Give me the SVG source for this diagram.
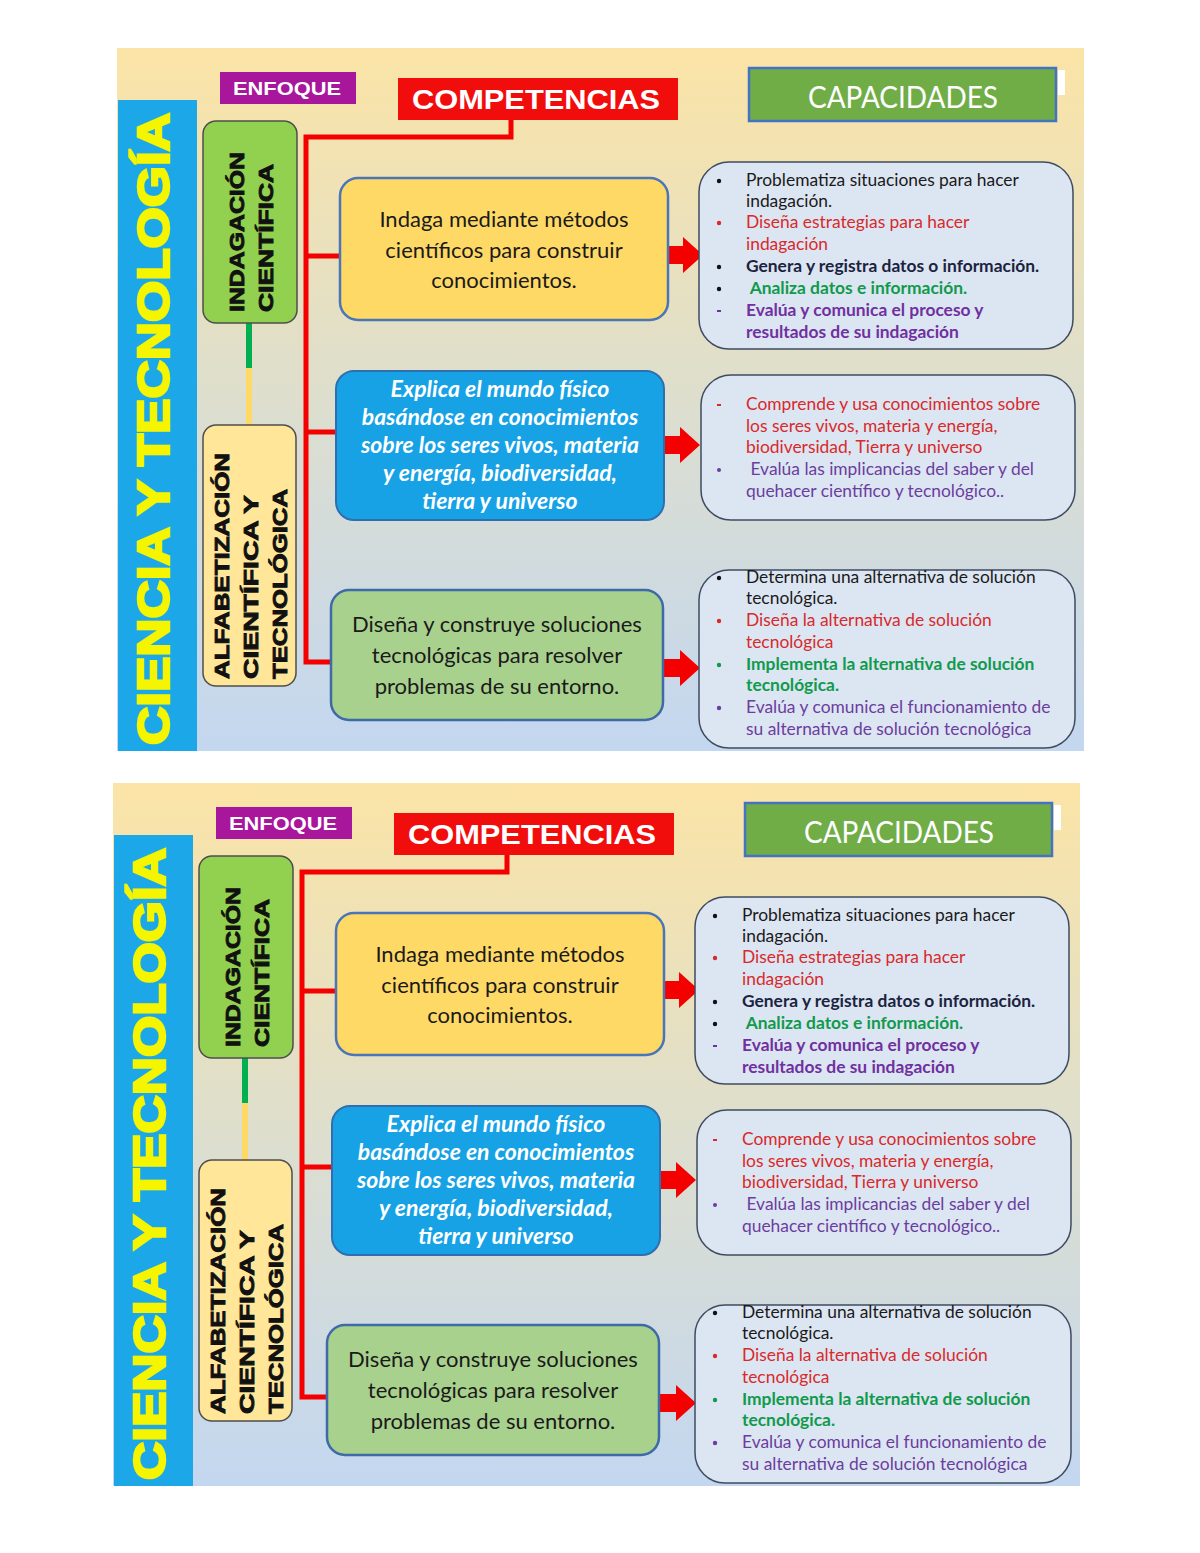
<svg xmlns="http://www.w3.org/2000/svg" width="1200" height="1553" viewBox="0 0 1200 1553">
<defs>
<linearGradient id="bg" x1="0" y1="0" x2="0" y2="1">
<stop offset="0" stop-color="#fbe4a6"/>
<stop offset="0.45" stop-color="#e0dfca"/>
<stop offset="1" stop-color="#c3d7f0"/>
</linearGradient>
<style>
.hd{font-family:"Liberation Sans",Arial,sans-serif;font-weight:bold;fill:#fff;text-anchor:middle}
.title{font-family:"Liberation Sans",Arial,sans-serif;font-weight:bold;font-size:45px;fill:#f5f500;stroke:#f5f500;stroke-width:2.4}
.vt{font-family:"Liberation Sans",Arial,sans-serif;font-weight:bold;font-size:21px;fill:#111;stroke:#111;stroke-width:0.9}
.comp{font-family:Lato,"Open Sans",sans-serif;font-size:22px;text-anchor:middle;fill:#1a1a1a}
.compb{font-family:Lato,"Open Sans",sans-serif;font-size:23px;text-anchor:middle;fill:#fff;font-weight:bold;font-style:italic}
.cap{font-family:Lato,"Open Sans",sans-serif;font-size:17.4px}
.capbox{fill:#dce5f2;stroke:#3e4b60;stroke-width:1.5}
.con{fill:none;stroke:#f40000;stroke-width:5}
.arr{fill:#f40000}
.k{fill:#1a1a1a}.r{fill:#d82a2a}.n{fill:#1b2340;font-weight:bold}.g{fill:#109a4c;font-weight:bold}.p{fill:#7030a0;font-weight:bold}.pr{fill:#6b3d9e}
</style>
</defs>
<rect width="1200" height="1553" fill="#fff"/>

<g id="panel1">
<rect x="117" y="48" width="967" height="703" fill="url(#bg)"/>
<g id="title1"><rect x="118" y="100" width="79" height="651" fill="#1ca8e8"/><text class="title" transform="translate(169,745) rotate(-90)" textLength="632" lengthAdjust="spacingAndGlyphs">CIENCIA Y TECNOLOGÍA</text></g>
<g id="enfoque1"><rect x="220" y="72" width="136" height="32" fill="#a8169b"/><text class="hd" x="287" y="95" font-size="19" textLength="108" lengthAdjust="spacingAndGlyphs">ENFOQUE</text></g>
<g id="competencias1"><rect x="398" y="78" width="280" height="42" fill="#f20d0d"/><text class="hd" x="536" y="109" font-size="28" textLength="248" lengthAdjust="spacingAndGlyphs">COMPETENCIAS</text></g>
<g id="capacidades1"><rect x="749" y="68" width="307" height="53" fill="#70ad47" stroke="#4472c4" stroke-width="2.5"/><rect x="1058" y="70" width="7" height="25" fill="#fff"/><text x="903" y="108" font-family="Lato,'Open Sans',sans-serif" font-size="30" fill="#fff" text-anchor="middle" textLength="190" lengthAdjust="spacingAndGlyphs">CAPACIDADES</text></g>

<g id="connectors1">
<line x1="249" y1="323" x2="249" y2="369" stroke="#00b050" stroke-width="6"/>
<line x1="249" y1="368" x2="249" y2="425" stroke="#ffd966" stroke-width="6"/>
<path class="con" d="M511,120 V137 H306 V662 H331 M306,256 H340 M306,432 H336"/>
<polygon class="arr" points="669,246 683,246 683,237 703,255 683,273 683,264 669,264"/>
<polygon class="arr" points="664,436 680,436 680,427 700,445 680,463 680,454 664,454"/>
<polygon class="arr" points="664,659 680,659 680,650 700,668 680,686 680,677 664,677"/>
</g>

<g id="indagacion1"><rect x="203" y="121" width="94" height="202" rx="13" fill="#92d050" stroke="#4d4d4d" stroke-width="1.5"/>
<text class="vt" transform="translate(244,312) rotate(-90)" textLength="160" lengthAdjust="spacingAndGlyphs">INDAGACIÓN</text>
<text class="vt" transform="translate(273,312) rotate(-90)" textLength="148" lengthAdjust="spacingAndGlyphs">CIENTÍFICA</text></g>
<g id="alfabetizacion1"><rect x="203" y="425" width="93" height="261" rx="13" fill="#ffe699" stroke="#4d4d4d" stroke-width="1.5"/>
<text class="vt" transform="translate(229,679) rotate(-90)" textLength="226" lengthAdjust="spacingAndGlyphs">ALFABETIZACIÓN</text>
<text class="vt" transform="translate(258,679) rotate(-90)" textLength="184" lengthAdjust="spacingAndGlyphs">CIENTÍFICA Y</text>
<text class="vt" transform="translate(287,679) rotate(-90)" textLength="190" lengthAdjust="spacingAndGlyphs">TECNOLÓGICA</text></g>

<g id="comp1a"><rect x="340" y="178" width="328" height="142" rx="18" fill="#ffd966" stroke="#4a76b8" stroke-width="2.5"/>
<text class="comp" x="504" y="227">Indaga mediante métodos</text><text class="comp" x="504" y="258">científicos para construir</text><text class="comp" x="504" y="288">conocimientos.</text></g>
<g id="comp1b"><rect x="336" y="371" width="328" height="149" rx="18" fill="#17a2e6" stroke="#2f6fb0" stroke-width="2"/>
<text class="compb" x="500" y="397">Explica el mundo físico</text><text class="compb" x="500" y="425">basándose en conocimientos</text><text class="compb" x="500" y="453">sobre los seres vivos, materia</text><text class="compb" x="500" y="481">y energía, biodiversidad,</text><text class="compb" x="500" y="509">tierra y universo</text></g>
<g id="comp1c"><rect x="331" y="590" width="332" height="130" rx="18" fill="#a9d18e" stroke="#3f6aa8" stroke-width="2.5"/>
<text class="comp" x="497" y="632">Diseña y construye soluciones</text><text class="comp" x="497" y="663">tecnológicas para resolver</text><text class="comp" x="497" y="694">problemas de su entorno.</text></g>

<g id="cap1a"><rect class="capbox" x="699" y="162" width="374" height="187" rx="30"/>
<circle cx="719" cy="181" r="2.2" fill="#111"/><circle cx="719" cy="223" r="2.2" fill="#d82a2a"/><circle cx="719" cy="267" r="2.2" fill="#111"/><circle cx="719" cy="289" r="2.2" fill="#111"/><rect x="717" y="310" width="4" height="2" fill="#7030a0"/>
<text class="cap"><tspan class="k" x="746" y="186">Problematiza situaciones para hacer</tspan><tspan class="k" x="746" y="207">indagación.</tspan><tspan class="r" x="746" y="228">Diseña estrategias para hacer</tspan><tspan class="r" x="746" y="250">indagación</tspan><tspan class="n" x="746" y="272">Genera y registra datos o información.</tspan><tspan class="g" x="746" y="294"> Analiza datos e información.</tspan><tspan class="p" x="746" y="316">Evalúa y comunica el proceso y</tspan><tspan class="p" x="746" y="338">resultados de su indagación</tspan></text></g>
<g id="cap1b"><rect class="capbox" x="701" y="375" width="374" height="145" rx="30"/>
<rect x="717" y="404" width="4" height="2" fill="#d82a2a"/><circle cx="719" cy="470" r="2" fill="#6b3d9e"/>
<text class="cap"><tspan class="r" x="746" y="410">Comprende y usa conocimientos sobre</tspan><tspan class="r" x="746" y="432">los seres vivos, materia y energía,</tspan><tspan class="r" x="746" y="453">biodiversidad, Tierra y universo</tspan><tspan class="pr" x="746" y="475"> Evalúa las implicancias del saber y del</tspan><tspan class="pr" x="746" y="497">quehacer científico y tecnológico..</tspan></text></g>
<g id="cap1c"><rect class="capbox" x="699" y="570" width="376" height="178" rx="30"/>
<circle cx="719" cy="578" r="2.2" fill="#111"/><circle cx="719" cy="621" r="2.2" fill="#d82a2a"/><circle cx="719" cy="665" r="2.2" fill="#109a4c"/><circle cx="719" cy="708" r="2.2" fill="#6b3d9e"/>
<text class="cap"><tspan class="k" x="746" y="583">Determina una alternativa de solución</tspan><tspan class="k" x="746" y="604">tecnológica.</tspan><tspan class="r" x="746" y="626">Diseña la alternativa de solución</tspan><tspan class="r" x="746" y="648">tecnológica</tspan><tspan class="g" x="746" y="670">Implementa la alternativa de solución</tspan><tspan class="g" x="746" y="691">tecnológica.</tspan><tspan class="pr" x="746" y="713">Evalúa y comunica el funcionamiento de</tspan><tspan class="pr" x="746" y="735">su alternativa de solución tecnológica</tspan></text></g>
</g>

<g id="panel2" transform="translate(-4,735)">
<rect x="117" y="48" width="967" height="703" fill="url(#bg)"/>
<g id="title2"><rect x="118" y="100" width="79" height="651" fill="#1ca8e8"/><text class="title" transform="translate(169,745) rotate(-90)" textLength="632" lengthAdjust="spacingAndGlyphs">CIENCIA Y TECNOLOGÍA</text></g>
<g id="enfoque2"><rect x="220" y="72" width="136" height="32" fill="#a8169b"/><text class="hd" x="287" y="95" font-size="19" textLength="108" lengthAdjust="spacingAndGlyphs">ENFOQUE</text></g>
<g id="competencias2"><rect x="398" y="78" width="280" height="42" fill="#f20d0d"/><text class="hd" x="536" y="109" font-size="28" textLength="248" lengthAdjust="spacingAndGlyphs">COMPETENCIAS</text></g>
<g id="capacidades2"><rect x="749" y="68" width="307" height="53" fill="#70ad47" stroke="#4472c4" stroke-width="2.5"/><rect x="1058" y="70" width="7" height="25" fill="#fff"/><text x="903" y="108" font-family="Lato,'Open Sans',sans-serif" font-size="30" fill="#fff" text-anchor="middle" textLength="190" lengthAdjust="spacingAndGlyphs">CAPACIDADES</text></g>

<g id="connectors2">
<line x1="249" y1="323" x2="249" y2="369" stroke="#00b050" stroke-width="6"/>
<line x1="249" y1="368" x2="249" y2="425" stroke="#ffd966" stroke-width="6"/>
<path class="con" d="M511,120 V137 H306 V662 H331 M306,256 H340 M306,432 H336"/>
<polygon class="arr" points="669,246 683,246 683,237 703,255 683,273 683,264 669,264"/>
<polygon class="arr" points="664,436 680,436 680,427 700,445 680,463 680,454 664,454"/>
<polygon class="arr" points="664,659 680,659 680,650 700,668 680,686 680,677 664,677"/>
</g>

<g id="indagacion2"><rect x="203" y="121" width="94" height="202" rx="13" fill="#92d050" stroke="#4d4d4d" stroke-width="1.5"/>
<text class="vt" transform="translate(244,312) rotate(-90)" textLength="160" lengthAdjust="spacingAndGlyphs">INDAGACIÓN</text>
<text class="vt" transform="translate(273,312) rotate(-90)" textLength="148" lengthAdjust="spacingAndGlyphs">CIENTÍFICA</text></g>
<g id="alfabetizacion2"><rect x="203" y="425" width="93" height="261" rx="13" fill="#ffe699" stroke="#4d4d4d" stroke-width="1.5"/>
<text class="vt" transform="translate(229,679) rotate(-90)" textLength="226" lengthAdjust="spacingAndGlyphs">ALFABETIZACIÓN</text>
<text class="vt" transform="translate(258,679) rotate(-90)" textLength="184" lengthAdjust="spacingAndGlyphs">CIENTÍFICA Y</text>
<text class="vt" transform="translate(287,679) rotate(-90)" textLength="190" lengthAdjust="spacingAndGlyphs">TECNOLÓGICA</text></g>

<g id="comp2a"><rect x="340" y="178" width="328" height="142" rx="18" fill="#ffd966" stroke="#4a76b8" stroke-width="2.5"/>
<text class="comp" x="504" y="227">Indaga mediante métodos</text><text class="comp" x="504" y="258">científicos para construir</text><text class="comp" x="504" y="288">conocimientos.</text></g>
<g id="comp2b"><rect x="336" y="371" width="328" height="149" rx="18" fill="#17a2e6" stroke="#2f6fb0" stroke-width="2"/>
<text class="compb" x="500" y="397">Explica el mundo físico</text><text class="compb" x="500" y="425">basándose en conocimientos</text><text class="compb" x="500" y="453">sobre los seres vivos, materia</text><text class="compb" x="500" y="481">y energía, biodiversidad,</text><text class="compb" x="500" y="509">tierra y universo</text></g>
<g id="comp2c"><rect x="331" y="590" width="332" height="130" rx="18" fill="#a9d18e" stroke="#3f6aa8" stroke-width="2.5"/>
<text class="comp" x="497" y="632">Diseña y construye soluciones</text><text class="comp" x="497" y="663">tecnológicas para resolver</text><text class="comp" x="497" y="694">problemas de su entorno.</text></g>

<g id="cap2a"><rect class="capbox" x="699" y="162" width="374" height="187" rx="30"/>
<circle cx="719" cy="181" r="2.2" fill="#111"/><circle cx="719" cy="223" r="2.2" fill="#d82a2a"/><circle cx="719" cy="267" r="2.2" fill="#111"/><circle cx="719" cy="289" r="2.2" fill="#111"/><rect x="717" y="310" width="4" height="2" fill="#7030a0"/>
<text class="cap"><tspan class="k" x="746" y="186">Problematiza situaciones para hacer</tspan><tspan class="k" x="746" y="207">indagación.</tspan><tspan class="r" x="746" y="228">Diseña estrategias para hacer</tspan><tspan class="r" x="746" y="250">indagación</tspan><tspan class="n" x="746" y="272">Genera y registra datos o información.</tspan><tspan class="g" x="746" y="294"> Analiza datos e información.</tspan><tspan class="p" x="746" y="316">Evalúa y comunica el proceso y</tspan><tspan class="p" x="746" y="338">resultados de su indagación</tspan></text></g>
<g id="cap2b"><rect class="capbox" x="701" y="375" width="374" height="145" rx="30"/>
<rect x="717" y="404" width="4" height="2" fill="#d82a2a"/><circle cx="719" cy="470" r="2" fill="#6b3d9e"/>
<text class="cap"><tspan class="r" x="746" y="410">Comprende y usa conocimientos sobre</tspan><tspan class="r" x="746" y="432">los seres vivos, materia y energía,</tspan><tspan class="r" x="746" y="453">biodiversidad, Tierra y universo</tspan><tspan class="pr" x="746" y="475"> Evalúa las implicancias del saber y del</tspan><tspan class="pr" x="746" y="497">quehacer científico y tecnológico..</tspan></text></g>
<g id="cap2c"><rect class="capbox" x="699" y="570" width="376" height="178" rx="30"/>
<circle cx="719" cy="578" r="2.2" fill="#111"/><circle cx="719" cy="621" r="2.2" fill="#d82a2a"/><circle cx="719" cy="665" r="2.2" fill="#109a4c"/><circle cx="719" cy="708" r="2.2" fill="#6b3d9e"/>
<text class="cap"><tspan class="k" x="746" y="583">Determina una alternativa de solución</tspan><tspan class="k" x="746" y="604">tecnológica.</tspan><tspan class="r" x="746" y="626">Diseña la alternativa de solución</tspan><tspan class="r" x="746" y="648">tecnológica</tspan><tspan class="g" x="746" y="670">Implementa la alternativa de solución</tspan><tspan class="g" x="746" y="691">tecnológica.</tspan><tspan class="pr" x="746" y="713">Evalúa y comunica el funcionamiento de</tspan><tspan class="pr" x="746" y="735">su alternativa de solución tecnológica</tspan></text></g>
</g>
</svg>
